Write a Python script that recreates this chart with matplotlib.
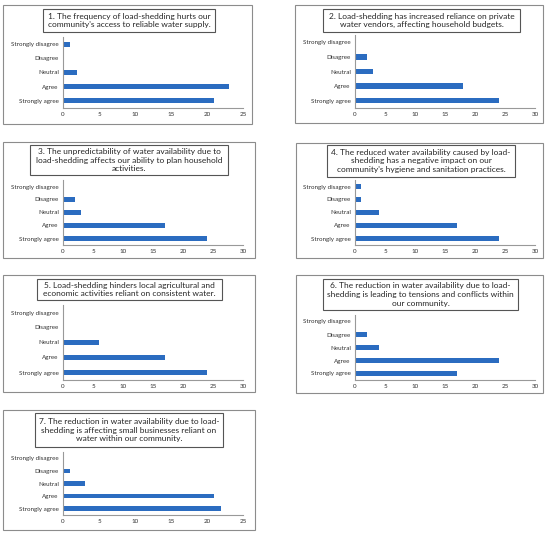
import matplotlib
matplotlib.use("Agg")
import matplotlib.pyplot as plt
from matplotlib.patches import Rectangle

W, H = 550, 536
BAR_COLOR = "#2B6CC0"
EDGE_GREY = "#8C8C8C"

plt.rcParams['font.family'] = ['Lato', 'DejaVu Sans']

# Response categories, top to bottom as shown
categories = ["Strongly disagree", "Disagree", "Neutral", "Agree", "Strongly agree"]

titles = [
    "1. The frequency of load-shedding hurts our\ncommunity's access to reliable water supply.",
    "2. Load-shedding has increased reliance on private\nwater vendors, affecting household budgets.",
    "3. The unpredictability of water availability due to\nload-shedding affects our ability to plan household\nactivities.",
    "4. The reduced water availability caused by load-\nshedding has a negative impact on our\ncommunity's hygiene and sanitation practices.",
    "5. Load-shedding hinders local agricultural and\neconomic activities reliant on consistent water.",
    "6. The reduction in water availability due to load-\nshedding is leading to tensions and conflicts within\nour community.",
    "7. The reduction in water availability due to load-\nshedding is affecting small businesses reliant on\nwater within our community.",
]

# counts per category (Strongly disagree, Disagree, Neutral, Agree, Strongly agree)
q1 = [1, 0, 2, 23, 21]
q2 = [0, 2, 3, 18, 24]
q3 = [0, 2, 3, 17, 24]
q4 = [1, 1, 4, 17, 24]
q5 = [0, 0, 6, 17, 24]
q6 = [0, 2, 4, 24, 17]
q7 = [0, 1, 3, 21, 22]
values = [q1, q2, q3, q4, q5, q6, q7]
x_max = [25, 30, 30, 30, 30, 30, 25]

# pixel boxes: (left, top, right, bottom)
borders = [(3, 5, 252, 124), (295, 5, 543, 123), (3, 142, 255, 258), (296, 143, 543, 258),
           (3, 275, 255, 392), (296, 275, 543, 393), (3, 410, 255, 530)]
title_boxes = [(43, 9, 215, 32), (323, 9, 520, 32), (30, 145, 228, 175), (327, 145, 515, 177),
               (37, 279, 222, 300), (323, 279, 518, 310), (35, 413, 223, 447)]
axes_boxes = [(63, 37, 243, 108), (355, 35, 535, 108), (63, 180, 243, 245), (355, 180, 535, 245),
              (63, 305, 243, 380), (355, 315, 535, 380), (63, 452, 243, 515)]


def to_fig(box):
    l, t, r, b = box
    return [l / W, 1 - b / H, (r - l) / W, (b - t) / H]


fig = plt.figure(figsize=(W / 100, H / 100), dpi=100)
fig.patch.set_facecolor("white")

for i in range(7):
    bx = to_fig(borders[i])
    fig.patches.append(Rectangle((bx[0], bx[1]), bx[2], bx[3], transform=fig.transFigure,
                                 fill=False, edgecolor=EDGE_GREY, linewidth=0.8))
    tb = to_fig(title_boxes[i])
    fig.patches.append(Rectangle((tb[0], tb[1]), tb[2], tb[3], transform=fig.transFigure,
                                 facecolor="white", edgecolor="#555555", linewidth=0.8))
    fig.text(tb[0] + tb[2] / 2, tb[1] + tb[3] / 2, titles[i], ha="center", va="center",
             fontsize=6.0, color="#262626", linespacing=1.3)

    ax = fig.add_axes(to_fig(axes_boxes[i]))
    ypos = list(range(len(categories)))
    ax.barh(ypos, values[i], height=0.36, color=BAR_COLOR)
    ax.set_yticks(ypos)
    ax.set_yticklabels(categories)
    ax.set_ylim(4.5, -0.5)
    ax.set_xlim(0, x_max[i])
    ax.set_xticks(range(0, x_max[i] + 1, 5))
    ax.tick_params(axis="both", labelsize=4.5, length=0, pad=3, colors="#333333")
    for side in ["top", "right"]:
        ax.spines[side].set_visible(False)
    for side in ["left", "bottom"]:
        ax.spines[side].set_color("#999999")
        ax.spines[side].set_linewidth(0.8)
    ax.set_facecolor("none")

fig.savefig("out.png", dpi=100)
